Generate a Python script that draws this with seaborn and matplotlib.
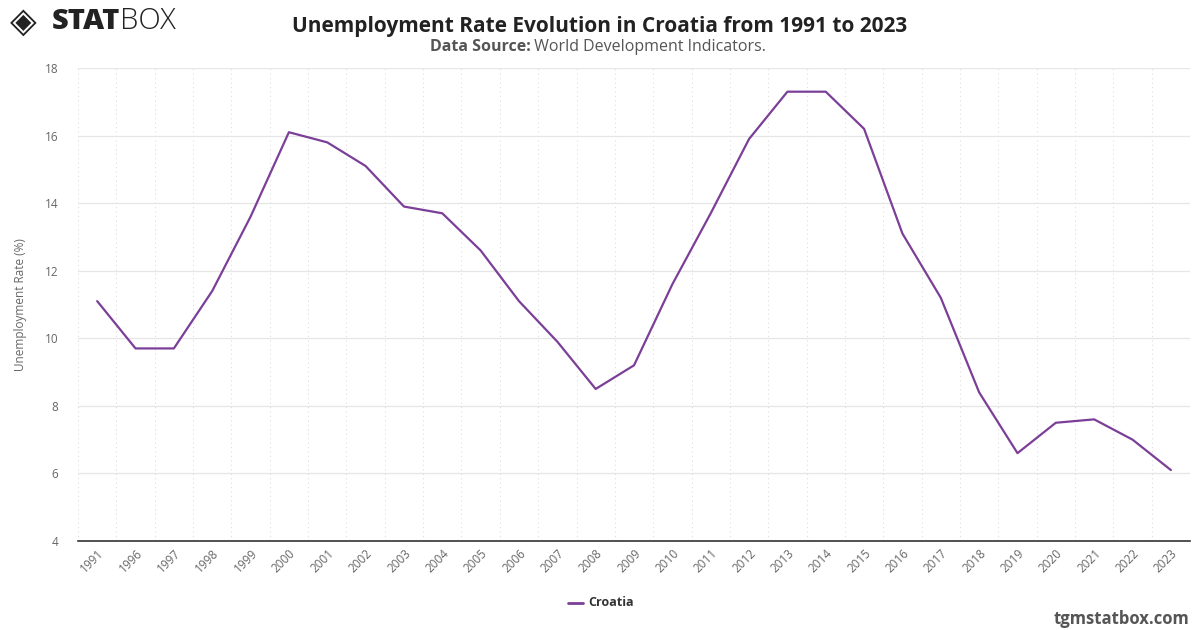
#unemployment rate in Croatia, 1991-2023 (World Development Indicators)

import pandas as pd
import seaborn as sns
import numpy as np
import matplotlib.pyplot as plt
from matplotlib.ticker import MultipleLocator, FixedLocator

years=["1991","1996","1997","1998","1999","2000","2001","2002","2003","2004",
       "2005","2006","2007","2008","2009","2010","2011","2012","2013","2014",
       "2015","2016","2017","2018","2019","2020","2021","2022","2023"]
unemployment=[11.1,9.7,9.7,11.4,13.6,16.1,15.8,15.1,13.9,13.7,
              12.6,11.1,9.9,8.5,9.2,11.6,13.7,15.9,17.3,17.3,
              16.2,13.1,11.2,8.4,6.6,7.5,7.6,7.0,6.1]
country="Croatia"

df=pd.DataFrame({"Year":years,"Rate":unemployment,"Country":country})

sns.set_style("white")
plt.rcParams['font.family']=['Open Sans','DejaVu Sans']

line_color="#7b3f98"

fig=plt.figure(figsize=(12,6.3),dpi=100)
ax=fig.add_axes([0.065,0.1413,0.9267,0.7507])

sns.lineplot(data=df,x="Year",y="Rate",hue="Country",palette=[line_color],
             ax=ax,linewidth=1.6,sort=False,legend=False)

ax.set_xlim(-0.5,len(years)-0.5)
ax.set_ylim(4,18)
ax.yaxis.set_major_locator(MultipleLocator(2))
ax.xaxis.set_minor_locator(FixedLocator(np.arange(-0.5,len(years),1)))
ax.grid(axis="y",which="major",color="#e6e6e6",linewidth=0.9)
ax.grid(axis="x",which="minor",color="#dddddd",linestyle=(0,(1,3)),linewidth=0.8)
ax.set_axisbelow(True)

for s in ["top","right","left"]:
    ax.spines[s].set_visible(False)
ax.spines["bottom"].set_color("#333333")
ax.spines["bottom"].set_linewidth(1.2)

ax.tick_params(axis="both",which="both",length=0,labelsize=8.5,labelcolor="#666666")
ax.tick_params(axis="y",pad=14)
ax.tick_params(axis="x",pad=4)
plt.setp(ax.get_xticklabels(),rotation=45,ha="right",rotation_mode="anchor")
ax.set_xlabel("")
ax.set_ylabel("Unemployment Rate (%)",fontsize=8.5,color="#666666",labelpad=13)

#title and subtitle
fig.text(0.5,0.958,"Unemployment Rate Evolution in Croatia from 1991 to 2023",
         ha="center",va="center",fontsize=15,fontweight="bold",color="#222222")
fig.text(0.442,0.925,"Data Source:",ha="right",va="center",fontsize=11.5,
         fontweight="bold",color="#555555")
fig.text(0.442,0.925," World Development Indicators.",ha="left",va="center",
         fontsize=11.5,color="#555555")

#logo
fig.text(0.008,0.966,"\u25c8",ha="left",va="center",fontsize=25,color="#222222",
         family="DejaVu Sans")
stat=fig.text(0.043,0.966,"STAT",ha="left",va="center",fontsize=21,fontweight="heavy",
              color="#222222")
fig.canvas.draw()
bb=stat.get_window_extent().transformed(fig.transFigure.inverted())
fig.text(bb.x1,0.966,"BOX",ha="left",va="center",fontsize=21,fontweight="light",
         color="#222222")

#legend
fig.lines.append(plt.Line2D([0.473,0.486],[0.043,0.043],transform=fig.transFigure,
                            color=line_color,linewidth=2))
fig.text(0.490,0.043,country,ha="left",va="center",fontsize=9,fontweight="bold",
         color="#333333")

#footer
fig.text(0.991,0.018,"tgmstatbox.com",ha="right",va="center",fontsize=12,
         fontweight="bold",color="#555555")

plt.savefig("out.png",dpi=100)
